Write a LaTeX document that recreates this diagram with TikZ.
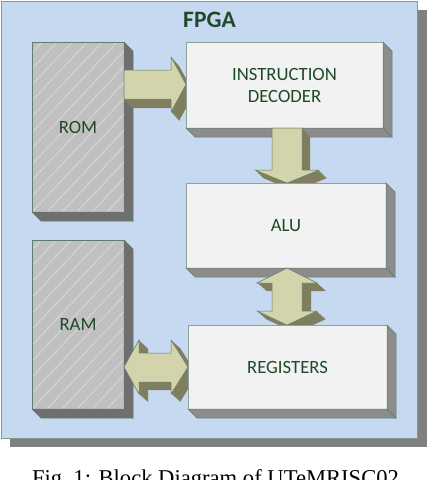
\documentclass[tikz,border=0pt]{standalone}
\usepackage{fontspec}
\setmainfont{Carlito}
\newfontfamily\capfont{Liberation Serif}
\definecolor{outerfill}{HTML}{C6D9F0}
\definecolor{outerline}{HTML}{7A9A94}
\definecolor{shadowgray}{HTML}{808080}
\definecolor{memfill}{HTML}{C0C0C0}
\definecolor{memstripe}{HTML}{D2D2D2}
\definecolor{memside}{HTML}{6F6F6F}
\definecolor{boxfill}{HTML}{F2F2F2}
\definecolor{boxside}{HTML}{8C8C8C}
\definecolor{edgeline}{HTML}{5E7D6C}
\definecolor{arfront}{HTML}{D4D4AC}
\definecolor{ardark}{HTML}{7F7E5F}
\definecolor{txtgreen}{HTML}{1E4A2A}
\tikzset{
  every node/.style={inner sep=0pt, outer sep=0pt},
  blocktext/.style={text=txtgreen, font=\fontsize{18.7}{22}\selectfont, align=center},
  membox/.style={blocktext, draw=edgeline, line width=0.6pt, fill=memfill,
    path picture={\foreach \k in {-12,...,7}
      \draw[memstripe, line width=1.3pt] ([xshift=\k*15pt]path picture bounding box.south west) -- ++(165,-175);}},
  unitbox/.style={blocktext, draw=edgeline!70, line width=0.6pt, fill=boxfill},
  sideface/.style={draw=edgeline, line width=0.5pt},
  arfrontstyle/.style={fill=arfront, draw=edgeline, line width=0.5pt},
}
\newcommand{\sidefaces}[3]{% node, depth, color
  \filldraw[sideface, fill=#3] (#1.north east) -- ++(#2,#2) -- ([shift={(#2,#2)}]#1.south east) -- (#1.south east) -- cycle;
  \filldraw[sideface, fill=#3] (#1.south west) -- (#1.south east) -- ++(#2,#2) -- ([shift={(#2,#2)}]#1.south west) -- cycle;
}
\def\arrowA{(124,70) -- (171,70) -- (171,57) -- (186,84.5) -- (171,112) -- (171,99) -- (124,99) -- cycle}
\def\arrowB{(272,128) -- (302,128) -- (302,170) -- (319,170) -- (287,183) -- (255,170) -- (272,170) -- cycle}
\def\arrowC{(287,268) -- (317,283) -- (302,283) -- (302,311) -- (317,311) -- (287,325) -- (257,311) -- (272,311) -- (272,283) -- (257,283) -- cycle}
\def\arrowD{(124,367) -- (139,340) -- (139,353) -- (171,353) -- (171,340) -- (188,367) -- (171,394) -- (171,382) -- (139,382) -- (139,394) -- cycle}
\begin{document}
\begin{tikzpicture}[x=1pt,y=-1pt]
\useasboundingbox (0,0) rectangle (428,480);
% FPGA frame
\fill[shadowgray] (10,10) rectangle (427,447);
\node[draw=outerline, line width=0.7pt, fill=outerfill, minimum width=416pt, minimum height=437pt] (fpga) at (209,219.5) {};
\node[anchor=base, text=txtgreen, font=\bfseries\fontsize{23.5}{26}\selectfont] (title) at (209.5,27.5) {FPGA};
% memories
\node[membox, minimum width=92pt, minimum height=170pt] (rom) at (78,127) {ROM};
\sidefaces{rom}{9}{memside}
\node[membox, minimum width=92pt, minimum height=169pt] (ram) at (78,324.5) {RAM};
\sidefaces{ram}{9}{memside}
% ROM -> decoder arrow
\foreach \t in {0,0.05,...,1.01} \fill[ardark, shift={(\t*8,\t*9)}] \arrowA;
\filldraw[arfrontstyle] \arrowA;
% instruction decoder
\node[unitbox, minimum width=197pt, minimum height=86pt] (dec) at (284.5,85) {INSTRUCTION\\DECODER};
\sidefaces{dec}{9}{boxside}
% decoder -> ALU
\foreach \t in {0,0.05,...,1.01} \fill[ardark, shift={(\t*8,\t*8)}] \arrowB;
\filldraw[arfrontstyle] \arrowB;
% ALU
\node[unitbox, minimum width=200pt, minimum height=85pt] (alu) at (286,225.5) {ALU};
\sidefaces{alu}{9}{boxside}
% ALU <-> registers, RAM <-> registers
\foreach \t in {0,0.05,...,1.01} \fill[ardark, shift={(\t*9,\t*8)}] \arrowC;
\filldraw[arfrontstyle] \arrowC;
\foreach \t in {0,0.05,...,1.01} \fill[ardark, shift={(\t*9,\t*8)}] \arrowD;
\filldraw[arfrontstyle] \arrowD;
% registers
\node[unitbox, minimum width=199pt, minimum height=84pt] (reg) at (287.5,367) {REGISTERS};
\sidefaces{reg}{9}{boxside}
% caption (partly cut off in the reference)
\node[anchor=base, font=\capfont\fontsize{22.6}{26}\selectfont] (cap) at (215.5,485) {Fig.~1: Block Diagram of UTeMRISC02};
\end{tikzpicture}
\end{document}
